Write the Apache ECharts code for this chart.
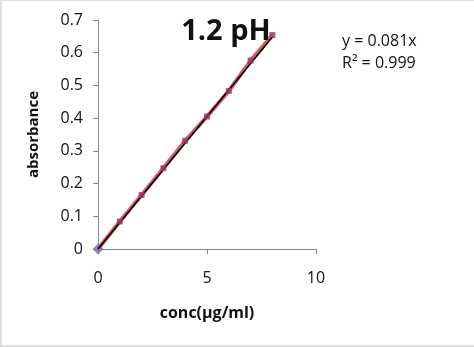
<!DOCTYPE html>
<html><head><meta charset="utf-8">
<script src="https://cdn.jsdelivr.net/npm/echarts@6/dist/echarts.min.js"></script>
<style>
html,body{margin:0;padding:0;background:#fff;}
#c{width:474px;height:347px;box-sizing:border-box;border-top:1px solid #e0e0e0;border-left:2px solid #e0e0e0;border-bottom:2px solid #e0e0e0;}
</style></head><body>
<div id="c"></div>
<script>
var concentrations = [0, 1, 2, 3, 4, 5, 6, 7, 8];
var absorbance = [0, 0.084, 0.165, 0.247, 0.331, 0.405, 0.483, 0.576, 0.654];
var slope = 0.081;
var xTicks = [0, 5, 10];
var yTicks = [0, 0.1, 0.2, 0.3, 0.4, 0.5, 0.6, 0.7];
var titleText = '1.2 pH';
var equationText = 'y = 0.081x';
var r2Text = 'R² = 0.999';

var dataPts = concentrations.map(function(x, i){ return [x, absorbance[i]]; });
var trend = [[concentrations[0], slope*concentrations[0]], [concentrations[concentrations.length-1], slope*concentrations[concentrations.length-1]]];
var FONT = '"Open Sans", "Noto Sans", sans-serif';

var chart = echarts.init(document.getElementById('c'), null, {renderer:'canvas'});
chart.setOption({
  animation:false,
  backgroundColor:'#fff',
  grid:{left:96, right:158, top:19, bottom:96, containLabel:false},
  title:{text:titleText, left:219, top:11, textAlign:'center',
    textStyle:{fontFamily:FONT, fontWeight:'bold', fontSize:29, color:'#111'}},
  graphic:[
    {type:'text', left:340, top:32, style:{text:equationText, font:'16px '+FONT, fill:'#111'}},
    {type:'text', left:340, top:54, style:{text:r2Text, font:'16px '+FONT, fill:'#111'}}
  ],
  xAxis:{type:'value', min:0, max:10, interval:5,
    name:'conc(µg/ml)', nameLocation:'middle', nameGap:56,
    nameTextStyle:{fontFamily:FONT, fontWeight:'bold', fontSize:16, color:'#111'},
    axisLine:{onZero:false, lineStyle:{color:'#888', width:1}},
    axisTick:{show:true, length:5, inside:false, lineStyle:{color:'#888'}},
    axisLabel:{fontFamily:FONT, fontSize:16, color:'#111', margin:21},
    splitLine:{show:false}},
  yAxis:{type:'value', min:0, max:0.7, interval:0.1,
    name:'absorbance', nameLocation:'middle', nameGap:57, nameRotate:90,
    nameTextStyle:{fontFamily:FONT, fontWeight:'bold', fontSize:15, color:'#111'},
    axisLine:{show:true, lineStyle:{color:'#888', width:1}},
    axisTick:{show:true, length:5, lineStyle:{color:'#888'}},
    axisLabel:{fontFamily:FONT, fontSize:16, color:'#111', margin:15,
      formatter:function(v){ return v===0 ? '0' : (Math.round(v*10)/10).toFixed(1); }},
    splitLine:{show:false}},
  series:[
    {type:'line', data:dataPts, showSymbol:false, symbol:'none',
      lineStyle:{color:'#d0606a', width:4}, z:2},
    {type:'line', data:trend, showSymbol:false, symbol:'none',
      lineStyle:{color:'#000', width:1.6}, z:3},
    {type:'scatter', data:dataPts.slice(1), symbol:'rect', symbolSize:6,
      itemStyle:{color:'#a03565'}, z:4},
    {type:'scatter', data:[dataPts[0]], symbol:'diamond', symbolSize:11,
      itemStyle:{color:'#5b74c4'}, z:1}
  ]
});
</script>
</body></html>
